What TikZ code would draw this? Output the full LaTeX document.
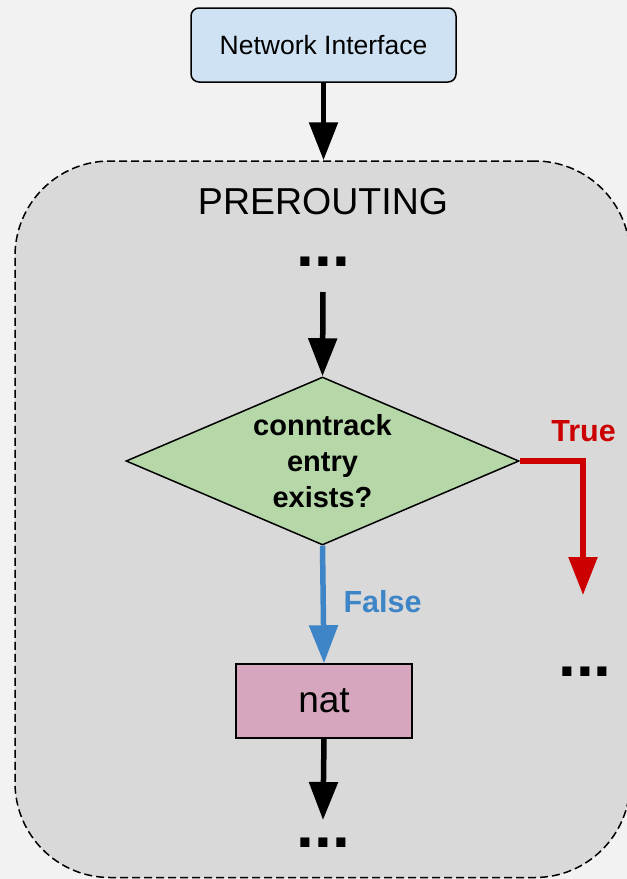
\documentclass[tikz,border=0pt]{standalone}
\usepackage{fontspec}
\setmainfont{Liberation Sans}
\usetikzlibrary{arrows.meta,shapes.geometric}
\definecolor{bgcol}{HTML}{F2F2F2}
\definecolor{chaincol}{HTML}{D9D9D9}
\definecolor{nicol}{HTML}{CFE2F3}
\definecolor{dcol}{HTML}{B6D7A8}
\definecolor{natcol}{HTML}{D5A6BD}
\definecolor{truecol}{HTML}{CC0000}
\definecolor{falsecol}{HTML}{3D85C6}
\begin{document}
\begin{tikzpicture}[x=1pt,y=-1pt,
  flow/.style={line width=5.5pt,-{Triangle[length=38pt,width=28pt]}},
  dotrow/.style={font=\fontsize{64}{64}\selectfont\bfseries,inner sep=0pt,anchor=base},
  boxstyle/.style={draw,line width=1.5pt,inner sep=0pt},
  branchlabel/.style={font=\fontsize{30.5}{30.5}\selectfont\bfseries,inner sep=0pt}]
\fill[bgcol] (0,0) rectangle (627,879);
\useasboundingbox (0,0) rectangle (627,879);

% the PREROUTING chain (its right side runs past the page edge)
\node[draw,dash pattern=on 8pt off 4pt,line width=1.5pt,fill=chaincol,
      rounded corners=95pt,minimum width=615pt,minimum height=716.5pt]
      (pre) at (322.5,519.25) {};
\node[font=\fontsize{37.5}{37.5}\selectfont,inner sep=0pt] (pretitle) at (323,202) {PREROUTING};

% network interface
\node[boxstyle,fill=nicol,rounded corners=8pt,minimum width=265pt,minimum height=74pt,
      font=\fontsize{26.5}{26.5}\selectfont] (ni) at (323.5,45) {Network Interface};
\draw[flow] (ni.south) -- (ni.south |- pre.north);

\node[dotrow] (dotsa) at (323.5,266) {...};
\coordinate (starta) at (323,292);

% decision
\node[boxstyle,shape=diamond,fill=dcol,aspect=2.34,minimum width=393pt,minimum height=168pt,
      align=center,font=\fontsize{29}{36}\selectfont\bfseries] (dia) at (322.5,461)
      {conntrack\\entry\\exists?};
\draw[flow] (starta) -- (dia.north);

% nat
\node[boxstyle,fill=natcol,minimum width=176pt,minimum height=74pt,
      font=\fontsize{37}{37}\selectfont] (nat) at (324,701) {nat};

\coordinate (truetip) at (583,595);
\draw[flow,truecol] (dia.east) -| (truetip);
\node[branchlabel,text=truecol] (truelbl) at (583.5,431) {True};

\draw[flow,falsecol] (dia.south) -- (nat.north);
\node[branchlabel,text=falsecol] (falselbl) at (382.5,602) {False};

\coordinate (natend) at (323,820);
\draw[flow] (nat.south) -- (natend);
\node[dotrow] (dotsb) at (323.5,847) {...};
\node[dotrow] (dotsc) at (585,676.5) {...};
\end{tikzpicture}
\end{document}
